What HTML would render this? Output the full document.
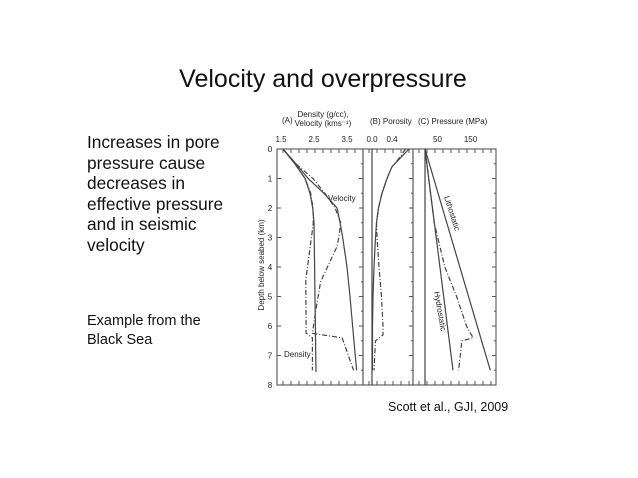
<!DOCTYPE html>
<html><head><meta charset="utf-8">
<style>
body{margin:0;background:#fff;width:638px;height:478px;overflow:hidden;font-family:"Liberation Sans",sans-serif;}
.t{position:absolute;color:#111;}
</style></head>
<body>
<div class="t" style="left:4px;width:638px;top:65px;text-align:center;font-size:25px;">Velocity and overpressure</div>
<div class="t" style="left:87px;top:132px;font-size:17.3px;line-height:20.5px;">Increases in pore<br>pressure cause<br>decreases in<br>effective pressure<br>and in seismic<br>velocity</div>
<div class="t" style="left:87px;top:312px;font-size:14.5px;line-height:19px;">Example from the<br>Black Sea</div>
<div class="t" style="left:388px;top:400px;font-size:12.5px;">Scott et al., GJI, 2009</div>
<svg id="chart" width="638" height="478" style="position:absolute;left:0;top:0" font-family="Liberation Sans, sans-serif"></svg>
<script>
const depthTicks=[0,1,2,3,4,5,6,7,8];
const aTicks=["1.5","2.5","3.5"];
const bTicks=["0.0","0.4"];
const cTicks=["50","150"];
const velDepth=[0,0.5,1,1.5,2,2.5,3,4,5,6,7.5];
const velModel=[1.56,1.95,2.32,2.8,3.2,3.29,3.37,3.5,3.59,3.67,3.79];
const velObsDepth=[0,0.5,1,1.5,2,2.5,3,3.3,4.5,5.5,6.25,6.4,7.5];
const velObs=[1.56,1.95,2.47,2.83,3.14,3.31,3.25,3.2,2.7,2.55,2.45,3.35,3.7];
const denDepth=[0,0.5,1,1.5,2,2.5,7.56];
const denModel=[1.56,1.92,2.23,2.38,2.46,2.5,2.56];
const denObsDepth=[0,0.5,1,1.5,2,2.5,2.75,4.44,6.24,6.4,7.5];
const denObs=[1.56,1.92,2.23,2.4,2.47,2.48,2.45,2.25,2.26,2.45,2.45];
const porDepth=[0,0.3,0.6,1,1.5,2,2.5,3,4,5,6,7.5];
const porModel=[0.74,0.57,0.4,0.3,0.2,0.13,0.09,0.07,0.04,0.02,0.01,0.01];
const porObsDepth=[0,0.3,0.6,1,1.5,2,2.5,3,4,5,6,6.3,6.5,7.5];
const porObs=[0.67,0.55,0.4,0.3,0.2,0.13,0.09,0.1,0.14,0.19,0.22,0.22,0.07,0.04];
const presDepth=[0,7.5];
const litho=[12,210];
const hydro=[12,97];
const poreDepth=[0,2.5,4,5,6,6.4,6.5,7.5];
const pore=[12,40,72,108,138,158,124,114];

const svg=document.getElementById('chart');
const NS='http://www.w3.org/2000/svg';
function mk(t,a,name){const e=document.createElementNS(NS,t);for(const k in a)e.setAttribute(k,a[k]);


svg.appendChild(e);return e;}
const y=d=>149+d*29.5;
const xA=v=>281+(v-1.5)*33;
const xB=v=>372+v*50;
const xC=v=>421+v*0.33;
function line(xs,ds,fx,dash,name){const p=xs.map((v,i)=>fx(v).toFixed(1)+','+y(ds[i]).toFixed(1)).join(' ');
mk('polyline',{points:p,fill:'none',stroke:'#444','stroke-width':1.2,'stroke-dasharray':dash||''},name);}
function txt(x,yy,s,name,extra){const e=mk('text',Object.assign({x:x,y:yy,'font-size':8,fill:'#222'},extra||{}),name);e.textContent=s;return e;}
[[277,363],[363,413],[413,496]].forEach((p,i)=>{
 mk('rect',{x:p[0],y:149,width:p[1]-p[0],height:236,fill:'none',stroke:'#555','stroke-width':1.1},'panel-frame-'+i);
 for(let d=0;d<=8;d+=0.5){mk('line',{x1:p[1],x2:p[1]-(d%1?2:4),y1:y(d),y2:y(d),stroke:'#555'},'right-tick');}
 for(let x=p[0]+6;x<p[1]-2;x+=8){mk('line',{x1:x,x2:x,y1:149,y2:153,stroke:'#555'},'top-tick');mk('line',{x1:x,x2:x,y1:385,y2:381,stroke:'#555'},'bottom-tick');}
});
mk('line',{x1:xB(0),x2:xB(0),y1:149,y2:385,stroke:'#444','stroke-width':1.2},'porosity-zero-line');
mk('line',{x1:425,x2:425,y1:149,y2:385,stroke:'#444','stroke-width':1.2},'pressure-zero-line');
depthTicks.forEach(d=>{txt(270,y(d)+3,String(d),'depth-tick-label',{'text-anchor':'middle'});mk('line',{x1:277,x2:281,y1:y(d),y2:y(d),stroke:'#555'},'depth-tick');});
aTicks.forEach(s=>txt(xA(+s),142,s,'a-tick-label',{'text-anchor':'middle'}));
bTicks.forEach(s=>txt(xB(+s),142,s,'b-tick-label',{'text-anchor':'middle'}));
cTicks.forEach(s=>txt(xC(+s),142,s,'c-tick-label',{'text-anchor':'middle'}));
txt(282,123,'(A)','panel-a-label');
txt(323,117,'Density (g/cc),','panel-a-title',{'text-anchor':'middle'});
txt(323,126,'Velocity (kms⁻¹)','panel-a-title-2',{'text-anchor':'middle'});
txt(370,124,'(B) Porosity','panel-b-title');
txt(418,124,'(C) Pressure (MPa)','panel-c-title');
txt(264,265,'Depth below seabed (km)','y-axis-title',{'text-anchor':'middle',transform:'rotate(-90 264 265)'});
txt(328,201,'Velocity','velocity-label');
txt(284,357,'Density','density-label');
txt(444,197,'Lithostatic','lithostatic-label',{transform:'rotate(72 444 197)'});
txt(434,292,'Hydrostatic','hydrostatic-label',{transform:'rotate(80 434 292)'});
line(velModel,velDepth,xA,'','velocity-model');
line(velObs,velObsDepth,xA,'5,2,1,2','velocity-observed');
line(denModel,denDepth,xA,'','density-model');
line(denObs,denObsDepth,xA,'5,2,1,2','density-observed');
line(porModel,porDepth,xB,'','porosity-model');
line(porObs,porObsDepth,xB,'5,2,1,2','porosity-observed');
line(litho,presDepth,xC,'','lithostatic-line');
line(hydro,presDepth,xC,'','hydrostatic-line');
line(pore,poreDepth,xC,'5,2,1,2','pore-pressure');
</script>
</body></html>
